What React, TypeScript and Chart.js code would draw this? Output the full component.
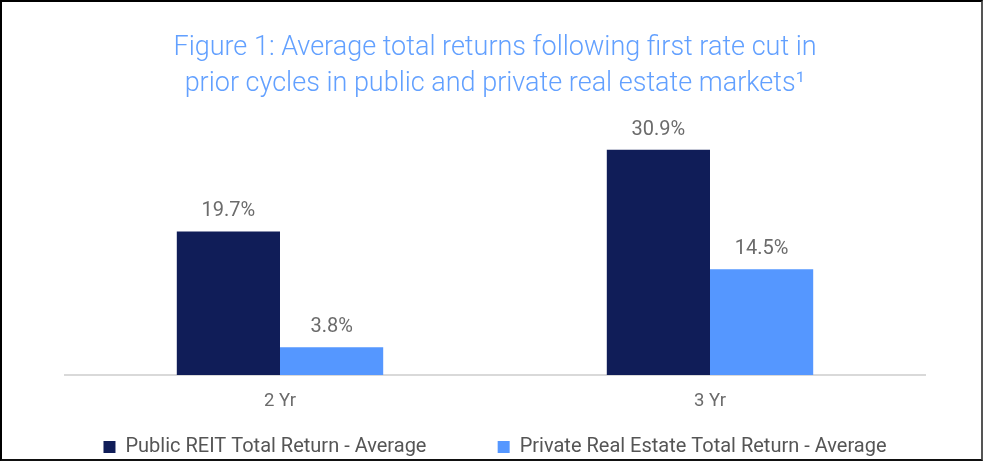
import React, { useEffect, useRef } from "react";
import { Chart, registerables } from "chart.js";

Chart.register(...registerables);

const categories = ["2 Yr", "3 Yr"];
const publicReit = [19.7, 30.9];
const privateRe = [3.8, 14.5];
const seriesNames = ["Public REIT Total Return - Average", "Private Real Estate Total Return - Average"];
const titleLines = ["Figure 1: Average total returns following first rate cut in", "prior cycles in public and private real estate markets\u00B9"];

const valueLabels = {
  id: "valueLabels",
  afterDatasetsDraw(chart: any) {
    const ctx = chart.ctx;
    ctx.save();
    ctx.font = "400 20px Roboto";
    ctx.fillStyle = "#6b6b6b";
    ctx.textAlign = "center";
    ctx.textBaseline = "middle";
    chart.data.datasets.forEach((ds: any, i: number) => {
      const meta = chart.getDatasetMeta(i);
      meta.data.forEach((el: any, j: number) => {
        ctx.fillText(ds.data[j].toFixed(1) + "%", el.x, el.y - 20);
      });
    });
    ctx.restore();
  },
};

export default function App() {
  const ref = useRef<HTMLCanvasElement>(null);
  useEffect(() => {
    document.body.style.margin = "0";
    const chart = new Chart(ref.current!, {
      type: "bar",
      data: {
        labels: categories,
        datasets: [
          { label: seriesNames[0], data: publicReit, backgroundColor: "#101d58", categoryPercentage: 0.48, barPercentage: 1 },
          { label: seriesNames[1], data: privateRe, backgroundColor: "#5597ff", categoryPercentage: 0.48, barPercentage: 1 },
        ],
      },
      options: {
        animation: false,
        responsive: false,
        maintainAspectRatio: false,
        layout: { padding: { left: 65, right: 58, top: 30, bottom: -6 } },
        scales: {
          x: {
            grid: { display: false, drawTicks: false },
            border: { display: true, color: "#d9d9d9", width: 2 },
            ticks: { color: "#6b6b6b", font: { family: "Roboto", size: 18.5, lineHeight: 44 / 18.5 }, padding: 4 },
          },
          y: { display: false, min: 0, max: 35 },
        },
        plugins: {
          title: {
            display: true,
            text: titleLines,
            color: "#62a0ff",
            font: { family: "Roboto", size: 27, weight: "300", lineHeight: 1.35 },
            padding: { top: 0, bottom: 17 },
          },
          legend: {
            position: "bottom",
            labels: {
              color: "#555555",
              font: { family: "Roboto", size: 20 },
              boxWidth: 12,
              boxHeight: 12,
              padding: 10,
              generateLabels: (c: any) =>
                c.data.datasets.map((ds: any, i: number) => ({
                  text: i === 0 ? ds.label + "\u2003\u2003\u2003" : ds.label,
                  fillStyle: ds.backgroundColor,
                  strokeStyle: ds.backgroundColor,
                  lineWidth: 0,
                  fontColor: "#555555",
                  hidden: false,
                  datasetIndex: i,
                })),
            },
          },
          tooltip: { enabled: false },
        },
      } as any,
      plugins: [valueLabels],
    });
    return () => chart.destroy();
  }, []);
  return (
    <div style={{ position: "absolute", left: 0, top: 0, width: 983, height: 461, background: "#fff" }}>
      <canvas ref={ref} width={983} height={461} style={{ display: "block" }} />
      <div
        style={{
          position: "absolute",
          left: 0,
          top: 0,
          width: 983,
          height: 461,
          boxSizing: "border-box",
          borderTop: "2px solid #000",
          borderLeft: "2px solid #000",
          borderBottom: "2px solid #111",
          borderRight: "2px solid #555",
          pointerEvents: "none",
        }}
      />
    </div>
  );
}
